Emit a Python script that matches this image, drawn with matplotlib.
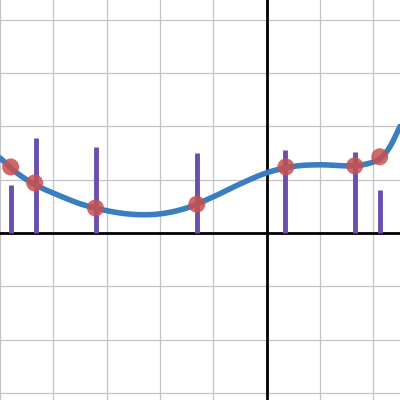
import matplotlib
matplotlib.use("Agg")
import matplotlib.pyplot as plt
import numpy as np

# curve
curve_x = [-5, -4.75, -4.5, -4.25, -4, -3.5, -3, -2.5, -2, -1.5, -1, -0.5, 0, 0.5, 1, 1.5, 1.8, 2.1, 2.3, 2.5]
curve_y = [1.41, 1.18, 1.0, 0.86, 0.75, 0.55, 0.42, 0.35, 0.36, 0.47, 0.68, 0.92, 1.13, 1.25, 1.28, 1.26, 1.28, 1.38, 1.6, 2.0]

point_x = [-4.8, -4.35, -3.21, -1.31, 0.36, 1.65, 2.12]
point_y = [1.24, 0.94, 0.47, 0.54, 1.24, 1.26, 1.43]

stem_x = [-4.8, -4.33, -3.2, -1.3, 0.35, 1.65, 2.12]
stem_h = [0.9, 1.78, 1.61, 1.5, 1.56, 1.52, 0.81]


def catmull_rom(xs, ys, n=20):
    p = np.column_stack([xs, ys])
    p = np.vstack([p[0], p, p[-1]])
    out = []
    t = np.linspace(0, 1, n, endpoint=False)[:, None]
    for i in range(1, len(p) - 2):
        p0, p1, p2, p3 = p[i - 1], p[i], p[i + 1], p[i + 2]
        seg = 0.5 * ((2 * p1) + (-p0 + p2) * t + (2 * p0 - 5 * p1 + 4 * p2 - p3) * t**2
                     + (-p0 + 3 * p1 - 3 * p2 + p3) * t**3)
        out.append(seg)
    out.append(p[-2][None, :])
    out = np.vstack(out)
    return out[:, 0], out[:, 1]


fig = plt.figure(figsize=(4, 4), dpi=100)
ax = fig.add_axes([0, 0, 1, 1])
ax.set_xlim(-5, 2.5)
ax.set_ylim(-3.13, 4.37)
for gx in range(-5, 3):
    ax.axvline(gx, color="#c4c4c4", lw=0.9, zorder=0)
for gy in range(-3, 5):
    ax.axhline(gy, color="#c4c4c4", lw=0.9, zorder=0)
ax.axhline(0, color="black", lw=2, zorder=1)
ax.axvline(0, color="black", lw=2, zorder=1)

ax.vlines(stem_x, 0, stem_h, color="#6a4fad", lw=3.5, zorder=2)
sx, sy = catmull_rom(curve_x, curve_y)
ax.plot(sx, sy, color="#3a7dc0", lw=4, zorder=3, solid_capstyle="round")
ax.scatter(point_x, point_y, s=150, color="#c8504e", alpha=0.85, zorder=4, edgecolors="none")
ax.axis("off")
fig.savefig("out.png", dpi=100)
